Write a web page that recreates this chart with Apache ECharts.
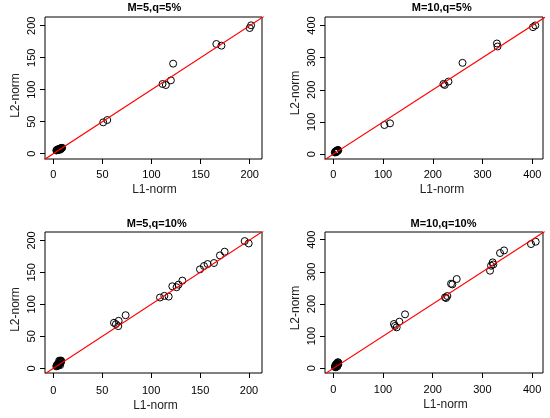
<!DOCTYPE html>
<html><head><meta charset="utf-8">
<script src="https://cdn.jsdelivr.net/npm/echarts@6/dist/echarts.min.js"></script>
<style>html,body{margin:0;padding:0;background:#fff}#c{width:550px;height:418px}</style>
</head><body><div id="c"></div>
<script>
// ---- data ----
const panelTitles = ['M=5,q=5%', 'M=10,q=5%', 'M=5,q=10%', 'M=10,q=10%'];
const xName = 'L1-norm';
const yName = 'L2-norm';
const ticks200 = [0, 50, 100, 150, 200];
const ticks400 = [0, 100, 200, 300, 400];

// M=5, q=5%
const m5q5_L1 = [3, 3.5, 4, 4.5, 5, 5.5, 6, 6.5, 7, 7.5, 8, 8.5, 9, 5, 6.5, 7.5, 4, 8,
  50.8, 54.9, 111.2, 114.6, 119.7, 122, 166, 171.2, 200, 201.4];
const m5q5_L2 = [5, 5.5, 5.8, 6, 6.3, 6.8, 7, 7.2, 7.8, 8, 8.4, 8.8, 9.2, 7, 6, 7, 6.5, 9,
  49, 52.6, 108.9, 107.3, 114.6, 140.7, 171.4, 168.8, 196.4, 200.6];

// M=10, q=5%
const m10q5_L1 = [3, 4, 5, 6, 7, 8, 9, 10, 5, 7, 9, 4, 6, 8,
  102.7, 114, 221.4, 224, 231.5, 259.7, 328.8, 330.1, 401.3, 406];
const m10q5_L2 = [5, 6, 7, 8, 9, 10, 11, 12, 9, 10, 13, 7, 6, 11,
  90.4, 95.6, 218.2, 215, 225.5, 283.7, 343.9, 334.6, 394.8, 400];

// M=5, q=10%
const m5q10_L1 = [3, 3.5, 4, 4.5, 5, 5.5, 6, 6.5, 7, 7.5, 8, 4, 5, 6, 7, 8, 6, 7,
  62, 64, 66.8, 66.4, 73.9, 109, 113.5, 117.9, 121.6, 126, 128, 131.9,
  149.9, 154, 157.7, 164.2, 170.3, 175.1, 195.6, 199.7];
const m5q10_L2 = [3, 4, 5, 6, 7, 8, 9, 10, 11, 12, 12, 6, 4, 6, 8, 10, 12, 5,
  71.2, 69.1, 74.3, 66, 83.1, 110.7, 113.3, 112.2, 128.3, 126.8, 130.9, 137.2,
  154.8, 160, 163.1, 164.7, 176.6, 182.4, 199, 195.3];

// M=10, q=10%
const m10q10_L1 = [3, 4, 5, 6, 7, 8, 9, 10, 4, 6, 8, 10, 5, 7, 9,
  122, 124, 127.5, 132.9, 144.3, 224.8, 229.5, 226.8, 236.9, 239.5, 248.3,
  315.4, 317.4, 320.7, 322, 335.5, 343.6, 397.9, 407.3];
const m10q10_L2 = [4, 6, 8, 10, 12, 14, 16, 18, 10, 14, 6, 12, 3, 8, 19,
  137.8, 131.6, 127.4, 145, 167.8, 220.7, 224.8, 218.6, 263.1, 261, 277.6,
  303.5, 319.1, 329.4, 323, 358.5, 366.7, 386.4, 393.7];

// ---- layout ----
const FONT = "'Liberation Sans', Arial, Helvetica, sans-serif";
const panels = [
  { x: m5q5_L1, y: m5q5_L2, ticks: ticks200, grid: {left: 45, top: 17, width: 217, height: 142},
    xr: [-8.5, 212.5], yr: [-8.3, 213.6], tx: 154.3, ty: 2.5,
    xMargin: 10.5, xGap: 25, xPad: [0, 0, 0, 2], yPad: [0, 15, 0, 0] },
  { x: m10q5_L1, y: m10q5_L2, ticks: ticks400, grid: {left: 325, top: 17, width: 218, height: 142},
    xr: [-16.7, 421.5], yr: [-15.3, 426.3], tx: 441.7, ty: 2.5,
    xMargin: 10.5, xGap: 25, xPad: [0, 0, 0, 16], yPad: [0, 10, 0, 0] },
  { x: m5q10_L1, y: m5q10_L2, ticks: ticks200, grid: {left: 45, top: 232, width: 217, height: 141},
    xr: [-8.5, 213.3], yr: [-7.3, 213.2], tx: 156.7, ty: 218,
    xMargin: 12, xGap: 27, xPad: [0, 0, 0, 4], yPad: [0, 14, 0, 0] },
  { x: m10q10_L1, y: m10q10_L2, ticks: ticks400, grid: {left: 325, top: 232, width: 218, height: 141},
    xr: [-16.8, 422], yr: [-14.6, 423.9], tx: 443.5, ty: 218,
    xMargin: 11.5, xGap: 26, xPad: [0, 0, 0, 23], yPad: [0, 11, 0, 0] }
];

const option = {
  animation: false,
  backgroundColor: '#fff',
  title: [], grid: [], xAxis: [], yAxis: [], series: []
};

panels.forEach((p, i) => {
  option.title.push({
    text: panelTitles[i], left: p.tx, top: p.ty, textAlign: 'center', padding: 0,
    textStyle: {fontFamily: FONT, fontSize: 11, fontWeight: 'bold', color: '#000'}
  });
  option.grid.push(Object.assign({show: true, borderColor: '#000', borderWidth: 1,
    backgroundColor: 'transparent', containLabel: false}, p.grid));
  const common = (ticks) => ({
    type: 'value', gridIndex: i,
    axisLine: {show: false, onZero: false},
    axisTick: {show: true, customValues: ticks, length: 5, inside: false,
      lineStyle: {color: '#000', width: 1}},
    splitLine: {show: false},
    nameLocation: 'middle'
  });
  option.xAxis.push(Object.assign(common(p.ticks), {
    min: p.xr[0], max: p.xr[1],
    axisLabel: {customValues: p.ticks, margin: p.xMargin, fontSize: 11, color: '#000', fontFamily: FONT},
    name: xName, nameGap: p.xGap,
    nameTextStyle: {fontFamily: FONT, fontSize: 12, color: '#222', padding: p.xPad}
  }));
  option.yAxis.push(Object.assign(common(p.ticks), {
    min: p.yr[0], max: p.yr[1],
    axisLabel: {customValues: p.ticks, margin: 8, rotate: 90, fontSize: 11, color: '#000', fontFamily: FONT},
    name: yName, nameGap: 23,
    nameTextStyle: {fontFamily: FONT, fontSize: 12, color: '#222', padding: p.yPad}
  }));
  option.series.push({
    type: 'scatter', xAxisIndex: i, yAxisIndex: i,
    data: p.x.map((v, k) => [v, p.y[k]]),
    symbol: 'circle', symbolSize: 7,
    itemStyle: {color: 'rgba(0,0,0,0)', borderColor: '#000', borderWidth: 1, opacity: 1},
    silent: true, z: 2
  });
  const lo = Math.min(p.xr[0], p.yr[0]) - 10, hi = Math.max(p.xr[1], p.yr[1]) + 10;
  option.series.push({
    type: 'line', xAxisIndex: i, yAxisIndex: i,
    data: [[lo, lo], [hi, hi]], showSymbol: false, clip: true,
    lineStyle: {color: '#ff0000', width: 1.2}, silent: true, z: 3
  });
});

const chart = echarts.init(document.getElementById('c'), null, {renderer: 'canvas'});
chart.setOption(option);
</script>
</body></html>
